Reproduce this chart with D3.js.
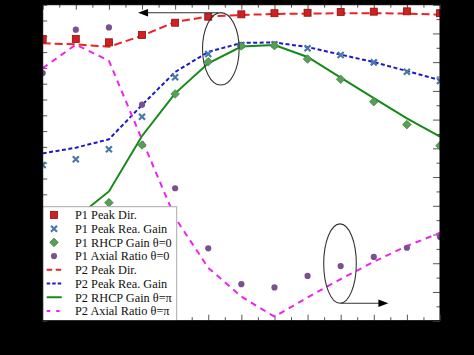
<!DOCTYPE html>
<html>
<head>
<meta charset="utf-8">
<script src="https://cdn.jsdelivr.net/npm/d3@7"></script>
<style>
  html, body { margin: 0; padding: 0; background: #000; }
  svg { display: block; }
</style>
</head>
<body>
<svg id="chart"></svg>
<script>
// x categories (frequency, GHz)
var freqs = [2.30, 2.35, 2.40, 2.45, 2.50, 2.55, 2.60, 2.65, 2.70, 2.75, 2.80, 2.85, 2.90]

// left axis series (dBi)
var p1PeakDir = [6.83, 6.83, 6.62, 7.08, 7.86, 8.24, 8.39, 8.46, 8.49, 8.54, 8.56, 8.58, 8.46]
var p1ReaGain = [-1.15, -0.78, -0.15, 1.91, 4.41, 5.88, 6.45, 6.49, 6.24, 5.82, 5.35, 4.76, 4.17]
var p1Rhcp = [-6.48, -5.35, -3.53, 0.12, 3.35, 5.39, 6.39, 6.41, 5.56, 4.28, 2.86, 1.41, 0.08]
var p2PeakDir = [6.56, 6.49, 6.34, 7.04, 7.91, 8.25, 8.35, 8.41, 8.44, 8.46, 8.46, 8.44, 8.37]
var p2ReaGain = [-0.41, -0.05, 0.48, 2.65, 4.74, 6.01, 6.58, 6.61, 6.32, 5.84, 5.37, 4.80, 4.23]
var p2Rhcp = [-5.89, -4.50, -2.82, 0.69, 3.39, 5.29, 6.35, 6.45, 5.69, 4.39, 3.09, 1.80, 0.65]

// right axis series (axial ratio, dB)
var p1AR = [8.62, 10.13, 10.21, 7.52, 4.61, 2.52, 1.27, 1.16, 1.56, 1.90, 2.22, 2.54, 2.91]
var p2AR = [8.79, 9.61, 9.05, 6.30, 3.58, 1.84, 0.84, 0.14, 0.81, 1.45, 2.05, 2.60, 3.06]

var legendLabels = ['P1 Peak Dir.', 'P1 Peak Rea. Gain', 'P1 RHCP Gain \u03b8=0', 'P1 Axial Ratio \u03b8=0',
    'P2 Peak Dir.', 'P2 Peak Rea. Gain', 'P2 RHCP Gain \u03b8=\u03c0', 'P2 Axial Ratio \u03b8=\u03c0']

var W = 474, H = 355
var margin = {left: 42.7, top: 4.7, right: 34, bottom: 34.3}
var w = W - margin.left - margin.right, h = H - margin.top - margin.bottom

var svg = d3.select('#chart').attr('width', W).attr('height', H)
svg.append('rect').attr('width', W).attr('height', H).attr('fill', '#000')

var g = svg.append('g').attr('transform', 'translate(' + margin.left + ',' + margin.top + ')')

var x = d3.scaleLinear().domain([2.3, 2.9]).range([0, w])
var yL = d3.scaleLinear().domain([-11, 9]).range([h, 0])
var yR = d3.scaleLinear().domain([0, 11]).range([h, 0])

g.append('clipPath').attr('id', 'clip').append('rect').attr('width', w).attr('height', h)
g.append('rect').attr('width', w).attr('height', h).attr('fill', '#fff')

// ticks, all pointing inward, no labels visible on black
var tickCol = '#555'
function tickAxis(axis, transform) {
    var a = g.append('g').attr('transform', transform).call(axis)
    a.select('.domain').remove()
    a.selectAll('text').remove()
    a.selectAll('line').attr('stroke', tickCol)
}
var xMajor = freqs, xMinor = freqs.slice(1).map(function(f, i) { return (f + freqs[i]) / 2 })
tickAxis(d3.axisBottom(x).tickValues(xMajor).tickSize(-6), 'translate(0,' + h + ')')
tickAxis(d3.axisBottom(x).tickValues(xMinor).tickSize(-3.5), 'translate(0,' + h + ')')
tickAxis(d3.axisTop(x).tickValues(xMajor).tickSize(-5), 'translate(0,0)')
tickAxis(d3.axisTop(x).tickValues(xMinor).tickSize(-3), 'translate(0,0)')
tickAxis(d3.axisLeft(yL).ticks(20).tickSize(-4.5), 'translate(0,0)')
tickAxis(d3.axisRight(yR).ticks(11).tickSize(-7), 'translate(' + w + ',0)')
tickAxis(d3.axisRight(yR).tickValues(d3.range(0.5, 11, 1)).tickSize(-3.5), 'translate(' + w + ',0)')

var plot = g.append('g').attr('clip-path', 'url(#clip)')

var lines = [
    {data: p2PeakDir, y: yL, color: '#ee2222', dash: '8,4'},
    {data: p2ReaGain, y: yL, color: '#1a1acc', dash: '4,2.5'},
    {data: p2Rhcp, y: yL, color: '#168a16', dash: null},
    {data: p2AR, y: yR, color: '#ee22ee', dash: '6,5'}
]
lines.forEach(function(s) {
    var line = d3.line()
        .x(function(d, i) { return x(freqs[i]) })
        .y(function(d) { return s.y(d) })
    plot.append('path')
        .datum(s.data)
        .attr('d', line)
        .attr('fill', 'none')
        .attr('stroke', s.color)
        .attr('stroke-width', 2)
        .attr('stroke-dasharray', s.dash)
})

// marker drawing helpers
function square(sel) {
    sel.append('rect').attr('x', -3.5).attr('y', -3.5).attr('width', 7).attr('height', 7)
        .attr('fill', '#d02020').attr('stroke', '#8a1010').attr('stroke-width', 0.8)
}
function cross(sel) {
    sel.append('path').attr('d', 'M-3,-3L3,3M-3,3L3,-3')
        .attr('stroke', '#4a78a8').attr('stroke-width', 2.2).attr('fill', 'none')
}
function diamond(sel) {
    sel.append('path').attr('d', 'M0,-4.3L4.3,0L0,4.3L-4.3,0Z')
        .attr('fill', '#55a055').attr('stroke', '#3d7d3d').attr('stroke-width', 0.7)
}
function circle(sel) {
    sel.append('circle').attr('r', 3.1).attr('fill', '#7a5090')
}

var markers = [
    {data: p1PeakDir, y: yL, draw: square},
    {data: p1ReaGain, y: yL, draw: cross},
    {data: p1Rhcp, y: yL, draw: diamond},
    {data: p1AR, y: yR, draw: circle}
]
markers.forEach(function(s) {
    plot.append('g').selectAll('g')
        .data(s.data)
        .enter()
        .append('g')
        .attr('transform', function(d, i) { return 'translate(' + x(freqs[i]) + ',' + s.y(d) + ')' })
        .call(s.draw)
})

// annotations: ellipses and arrows
var ann = plot.append('g')
ann.append('ellipse').attr('cx', x(2.569)).attr('cy', yL(6.21)).attr('rx', 18.3).attr('ry', 36.2)
    .attr('fill', 'none').attr('stroke', '#333').attr('stroke-width', 1.1)
ann.append('ellipse').attr('cx', x(2.749)).attr('cy', yR(1.99)).attr('rx', 16.3).attr('ry', 39.7)
    .attr('fill', 'none').attr('stroke', '#333').attr('stroke-width', 1.1)

function arrow(x1, x2, yy, dir) {
    ann.append('line').attr('x1', x1).attr('x2', x2 - dir * 9).attr('y1', yy).attr('y2', yy)
        .attr('stroke', '#333').attr('stroke-width', 1.1)
    ann.append('path')
        .attr('d', 'M' + x2 + ',' + yy + 'L' + (x2 - dir * 10) + ',' + (yy - 3.8) + 'L' + (x2 - dir * 10) + ',' + (yy + 3.8) + 'Z')
        .attr('fill', '#000')
}
arrow(x(2.565), x(2.444), yL(8.49), -1)
arrow(x(2.75), x(2.822), yR(0.61), 1)

// legend
var lg = plot.append('g')
var lgX = 0, lgTop = 202, rowH = 13.7
lg.append('rect').attr('x', lgX).attr('y', lgTop).attr('width', 134).attr('height', h - lgTop + 2)
    .attr('fill', '#fff').attr('stroke', '#aaa').attr('stroke-width', 1)

var legendItems = lg.selectAll('g.item')
    .data(legendLabels)
    .enter()
    .append('g')
    .attr('transform', function(d, i) { return 'translate(0,' + (lgTop + 8.3 + i * rowH) + ')' })

legendItems.each(function(d, i) {
    var it = d3.select(this)
    if (i < 4) {
        var m = it.append('g').attr('transform', 'translate(11.3,0)')
        markers[i].draw(m)
    } else {
        var s = lines[i - 4]
        var dash = [s.dash ? '5.5,3' : null, '3.5,2', null, '3.5,6'][i - 4]
        if (i === 4) dash = '5.5,3.5'
        it.append('line').attr('x1', 4).attr('x2', 19).attr('y1', 0).attr('y2', 0)
            .attr('stroke', s.color).attr('stroke-width', 2).attr('stroke-dasharray', dash)
    }
    it.append('text').attr('x', 32.3).attr('y', 4.3)
        .attr('font-family', '"Liberation Serif", "Times New Roman", serif')
        .attr('font-size', 12.3)
        .attr('fill', '#111')
        .text(d)
})

g.append('rect').attr('width', w).attr('height', h).attr('fill', 'none').attr('stroke', '#000').attr('stroke-width', 1)
</script>
</body>
</html>
